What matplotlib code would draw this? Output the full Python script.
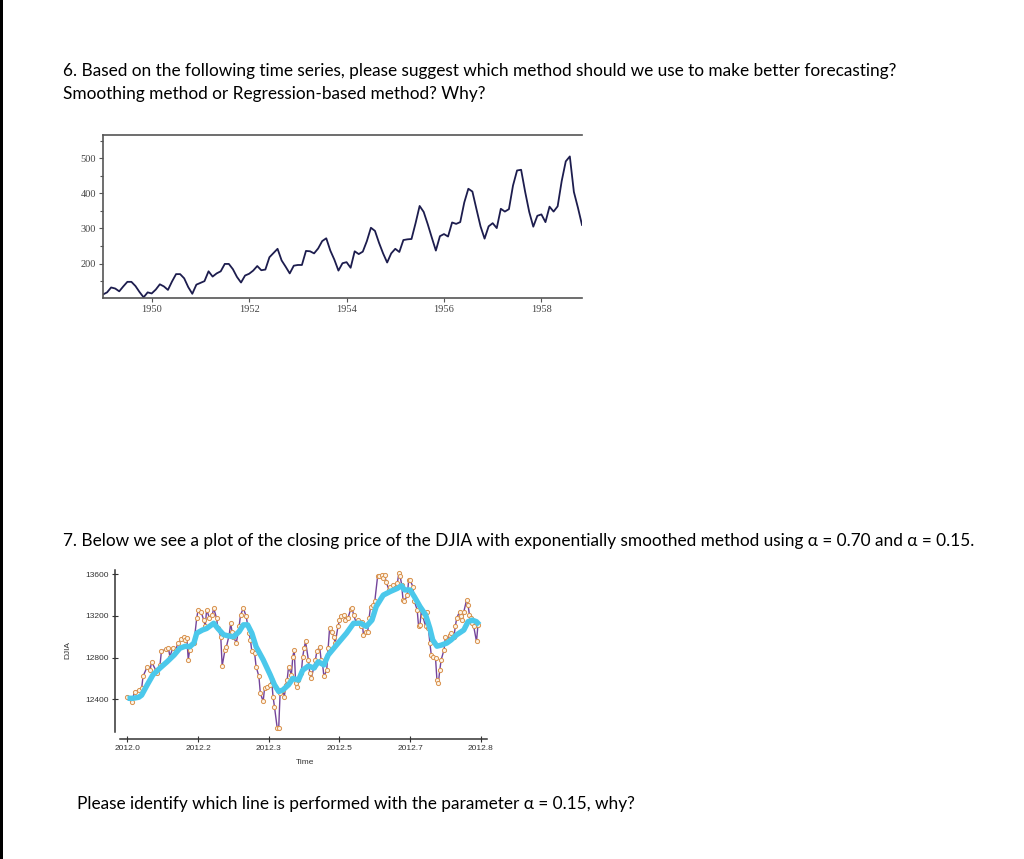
import numpy as np
import matplotlib
matplotlib.use("Agg")
import matplotlib.pyplot as plt
from matplotlib.patches import Rectangle

# --- question text ---
q6_line1 = "6. Based on the following time series, please suggest which method should we use to make better forecasting?"
q6_line2 = "Smoothing method or Regression-based method? Why?"
q7_line1 = "7. Below we see a plot of the closing price of the DJIA with exponentially smoothed method using \u03b1 = 0.70 and \u03b1 = 0.15."
q7_line2 = "Please identify which line is performed with the parameter \u03b1 = 0.15, why?"

# --- chart 1: monthly airline passengers, Jan 1949 .. Nov 1958 ---
passengers = [
    112, 118, 132, 129, 121, 135, 148, 148, 136, 119, 104, 118,
    115, 126, 141, 135, 125, 149, 170, 170, 158, 133, 114, 140,
    145, 150, 178, 163, 172, 178, 199, 199, 184, 162, 146, 166,
    171, 180, 193, 181, 183, 218, 230, 242, 209, 191, 172, 194,
    196, 196, 236, 235, 229, 243, 264, 272, 237, 211, 180, 201,
    204, 188, 235, 227, 234, 264, 302, 293, 259, 229, 203, 229,
    242, 233, 267, 269, 270, 315, 364, 347, 312, 274, 237, 278,
    284, 277, 317, 313, 318, 374, 413, 405, 355, 306, 271, 306,
    315, 301, 356, 348, 355, 422, 465, 467, 404, 347, 305, 336,
    340, 318, 362, 348, 363, 435, 491, 505, 404, 359, 310,
]
start_year = 1949
year_ticks = [1950, 1952, 1954, 1956, 1958]
pass_ticks = [200, 300, 400, 500]

# --- chart 2: DJIA 2012 daily close (alpha = 0.70) and alpha = 0.15 smooth ---
djia_day = [
    0, 3, 5, 8, 10, 11, 14, 16, 17, 20, 21, 23, 24, 27, 29, 30, 32, 34, 36, 38,
    40, 41, 42, 43, 44, 47, 49, 50, 52, 54, 55, 56, 58, 60, 61, 63, 64, 66, 67, 69,
    70, 72, 73, 74, 75, 77, 79, 80, 82, 84, 86, 87, 88, 90, 91, 93, 94, 96, 97, 99,
    101, 102, 103, 104, 106, 107, 108, 110, 111, 112, 113, 114, 116, 117, 118, 119, 120, 121, 123, 124,
    125, 126, 128, 129, 130, 132, 133, 134, 136, 137, 138, 139, 141, 142, 143, 145, 146, 147, 149, 150,
    151, 153, 154, 156, 158, 159, 160, 162, 163, 165, 166, 167, 169, 170, 171, 172, 174, 175, 177, 178,
    180, 181, 182, 183, 185, 186, 188, 189, 191, 192, 193, 194, 195, 196, 198, 199, 200, 202, 203, 205,
    206, 207, 208, 209, 211, 212, 213, 214, 215, 216, 218, 219, 220, 221, 222, 224, 225, 226, 227, 228,
    229, 231, 232, 233, 235, 236, 237, 238, 240, 241, 242, 243, 244, 245, 247, 248,
]
djia_close = [
    12420, 12370, 12475, 12485, 12505, 12620, 12715, 12680, 12760, 12680,
    12650, 12730, 12860, 12880, 12890, 12810, 12890, 12875, 12945, 12975,
    12995, 12970, 12985, 12780, 12875, 12940, 13180, 13260, 13240, 13160,
    13100, 13260, 13180, 13210, 13275, 13180, 13080, 13000, 12720, 12875,
    12905, 13020, 13130, 13050, 13000, 12940, 13100, 13210, 13275, 13195,
    13035, 12970, 12860, 12840, 12715, 12620, 12460, 12380, 12505, 12520,
    12540, 12585, 12425, 12330, 12120, 12120, 12460, 12490, 12425, 12540,
    12585, 12715, 12635, 12810, 12875, 12555, 12520, 12585, 12650, 12810,
    12890, 12955, 12780, 12650, 12600, 12715, 12780, 12860, 12905, 12780,
    12745, 12620, 12680, 12890, 13080, 13050, 13000, 12940, 13100, 13160,
    13195, 13210, 13160, 13180, 13265, 13275, 13210, 13130, 13160, 13100,
    13145, 13020, 13050, 13050, 13180, 13290, 13305, 13340, 13580, 13580,
    13595, 13560, 13595, 13530, 13450, 13480, 13500, 13465, 13515, 13610,
    13580, 13500, 13355, 13340, 13400, 13545, 13545, 13480, 13340, 13260,
    13100, 13115, 13260, 13195, 13100, 13240, 13080, 12940, 12825, 12810,
    12795, 12585, 12555, 12680, 12780, 12875, 13000, 12955, 12970, 13020,
    13035, 13000, 13100, 13180, 13240, 13195, 13160, 13240, 13355, 13305,
    13210, 13180, 13130, 13100, 12955, 13110,
]
smooth_day = [
    0, 4, 8, 10, 14, 18, 23, 28, 33, 37, 41, 44, 47, 49, 53, 56, 61, 64, 68, 71,
    75, 79, 82, 85, 88, 91, 96, 101, 104, 107, 110, 114, 117, 121, 124, 128, 132, 135, 139, 142,
    146, 150, 155, 160, 165, 169, 173, 176, 181, 186, 191, 194, 196, 200, 203, 207, 211, 214, 216, 219,
    222, 226, 229, 233, 238, 241, 244, 247, 249,
]
smooth_015 = [
    12410, 12410, 12420, 12440, 12540, 12635, 12700, 12760, 12825, 12890,
    12910, 12905, 12940, 13035, 13065, 13080, 13130, 13080, 13020, 13010,
    13000, 13050, 13115, 13115, 13035, 12905, 12780, 12635, 12540, 12475,
    12490, 12540, 12600, 12585, 12680, 12720, 12700, 12760, 12730, 12825,
    12890, 12955, 13035, 13130, 13130, 13100, 13160, 13290, 13400, 13435,
    13465, 13490, 13450, 13450, 13385, 13290, 13210, 13080, 12970, 12910,
    12920, 12940, 12970, 13020, 13065, 13145, 13160, 13145, 13115,
]
time_ticks = [2012.0, 2012.165, 2012.33, 2012.495, 2012.66, 2012.825]
time_labels = ["2012.0", "2012.2", "2012.3", "2012.5", "2012.7", "2012.8"]
djia_ticks = [12400, 12800, 13200, 13600]
year_per_day = 0.165 / 50

W, H = 1024, 859
fig = plt.figure(figsize=(W / 100, H / 100), dpi=100)
fig.patch.set_facecolor("white")

def fx(px):
    return px / W

def fy(py):
    return 1 - py / H

# black strip on the left edge of the page
fig.patches.append(Rectangle((0, 0), fx(3), 1, transform=fig.transFigure,
                             facecolor="black", edgecolor="none"))

text_font = ["Lato", "DejaVu Sans"]
fs = 12.4
fig.text(fx(63), fy(76), q6_line1, family=text_font, fontsize=fs, va="baseline")
fig.text(fx(63), fy(99.5), q6_line2, family=text_font, fontsize=fs, va="baseline")
fig.text(fx(63), fy(546), q7_line1, family=text_font, fontsize=fs, va="baseline")
fig.text(fx(77), fy(809), q7_line2, family=text_font, fontsize=fs, va="baseline")

# ---------- chart 1 ----------
ax1 = fig.add_axes([fx(103), fy(298), fx(582) - fx(103), fy(135) - fy(298)])
t_months = start_year + np.arange(len(passengers)) / 12
ax1.plot(t_months, passengers, color="#1d1d4e", lw=1.3)
ax1.set_xlim(start_year, t_months[-1])
ax1.set_ylim(102, 566)
ax1.spines["right"].set_visible(False)
for s in ["left", "top", "bottom"]:
    ax1.spines[s].set_color("#555555")
    ax1.spines[s].set_linewidth(1.2)
ax1.set_xticks(year_ticks)
ax1.set_yticks(pass_ticks)
ax1.set_yticks([150, 250, 350, 450, 550], minor=True)
ax1.tick_params(axis="both", which="major", direction="out", length=3,
                width=0.8, color="#555555", labelsize=7.5, labelcolor="#444444", pad=2)
ax1.tick_params(axis="y", which="minor", direction="out", length=2.5,
                width=0.8, color="#555555")
for lab in ax1.get_xticklabels() + ax1.get_yticklabels():
    lab.set_family("Liberation Serif")

# ---------- chart 2 ----------
ax_left, ax_right, ax_bottom, ax_top = 115, 490, 739, 565
ax2 = fig.add_axes([fx(ax_left), fy(ax_bottom), fx(ax_right) - fx(ax_left), fy(ax_top) - fy(ax_bottom)])
t_djia = 2012 + np.array(djia_day) * year_per_day
t_smooth = 2012 + np.array(smooth_day) * year_per_day
ax2.plot(t_djia, djia_close, color="#74449a", lw=1.0, zorder=2)
ax2.plot(t_djia, djia_close, ls="none", marker="o", ms=3.0, mfc="#fdf3e6",
         mec="#d8914c", mew=0.7, zorder=3)
ax2.plot(t_smooth, smooth_015, color="#4bc8eb", lw=3.9, solid_capstyle="butt",
         solid_joinstyle="round", zorder=4)

x_per_px = 0.165 / 70.65
y_per_px = 400 / 41.7
ax2.set_xlim(2012 - (127.5 - ax_left) * x_per_px, 2012 + (ax_right - 127.5) * x_per_px)
ax2.set_ylim(12400 - (ax_bottom - 699.3) * y_per_px, 13600 + (574.3 - ax_top) * y_per_px)
ax2.spines["right"].set_visible(False)
ax2.spines["top"].set_visible(False)
ax2.spines["left"].set_bounds(12400 - (731.7 - 699.3) * y_per_px, 13600 + (574.3 - 570) * y_per_px)
ax2.spines["bottom"].set_bounds(2012 - (127.5 - 120) * x_per_px, 2012 + (487 - 127.5) * x_per_px)
for s in ["left", "bottom"]:
    ax2.spines[s].set_color("#333333")
    ax2.spines[s].set_linewidth(1.1)
ax2.set_xticks(time_ticks)
ax2.set_xticklabels(time_labels)
ax2.set_yticks(djia_ticks)
ax2.tick_params(axis="both", direction="inout", length=5, width=0.8,
                color="#333333", labelsize=6.0, labelcolor="#333333", pad=2)
for lab in ax2.get_xticklabels() + ax2.get_yticklabels():
    lab.set_family("Liberation Sans")
fig.text(fx(68), fy(650), "DJIA", rotation=90, family="Liberation Sans",
         fontsize=6.0, color="#333333", ha="center", va="center")
fig.text(fx(305), fy(763), "Time", family="Liberation Sans",
         fontsize=6.0, color="#333333", ha="center", va="center")

fig.savefig("out.png", dpi=100)
